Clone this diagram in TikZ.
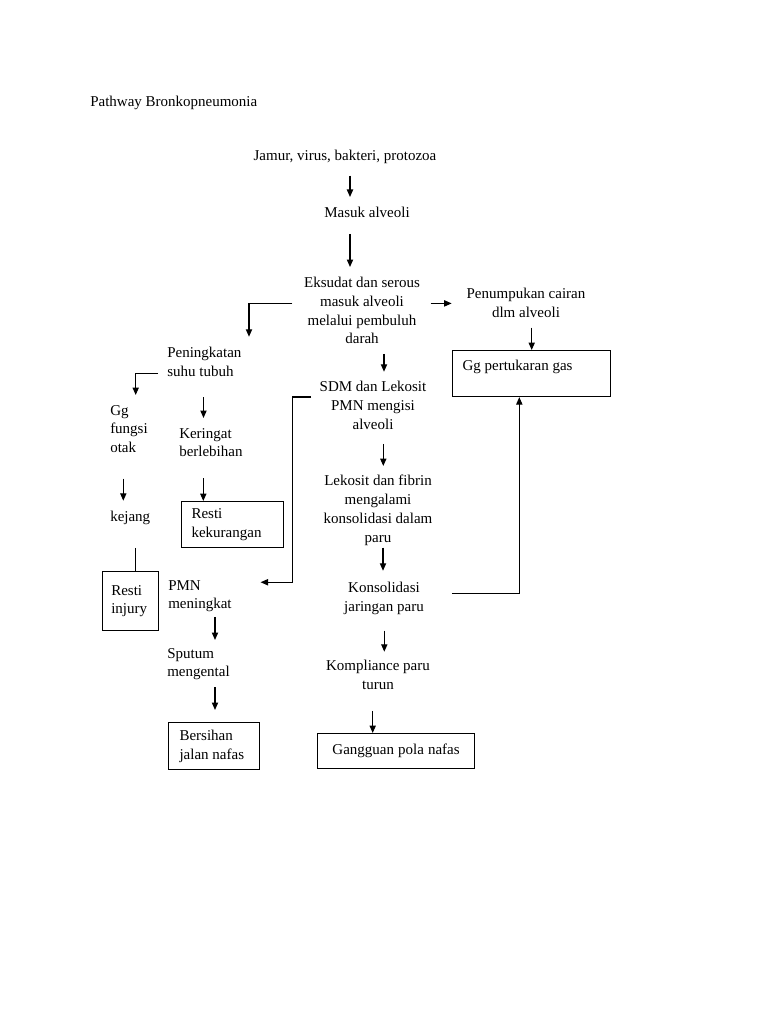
\documentclass[tikz,border=0pt]{standalone}
\usepackage{fontspec}
\setmainfont{Liberation Serif}
\usepackage{tikz}
\usetikzlibrary{arrows.meta}
\tikzset{
	lbl/.style={inner sep=0pt, align=center, font=\fontsize{12}{15}\selectfont},
	lbll/.style={lbl, align=left},
	box/.style={draw, line width=0.9pt, inner ysep=0pt, align=left,
		anchor=north west, font=\fontsize{12}{15}\selectfont,
		execute at begin node={\spaceskip=0pt\xspaceskip=0pt}},
	arr/.style={-{Triangle[length=6pt,width=5pt]}, line width=0.9pt},
	lnk/.style={line width=0.9pt},
}
\begin{document}
\begin{tikzpicture}[x=0.8pt, y=-0.8pt]
	\path[fill=white, use as bounding box] (0,0) rectangle (768,1024);
	\node[lbll, anchor=north west] (title) at (90,96) {Pathway Bronkopneumonia};
	% middle column
	\node[lbl, anchor=north] (jamur) at (345,150) {Jamur, virus, bakteri, protozoa};
	\node[lbl, anchor=north] (masuk) at (367,207) {Masuk alveoli};
	\node[lbl, anchor=north] (eksudat) at (362,277) {Eksudat dan serous\\masuk alveoli\\melalui pembuluh\\darah};
	\node[lbl, anchor=north] (sdm) at (373,381) {SDM dan Lekosit\\PMN mengisi\\alveoli};
	\node[lbl, anchor=north] (lekosit) at (378,475) {Lekosit dan fibrin\\mengalami\\konsolidasi dalam\\paru};
	\node[lbl, anchor=north] (konsolidasi) at (384,582) {Konsolidasi\\jaringan paru};
	\node[lbl, anchor=north] (kompliance) at (378,660) {Kompliance paru\\turun};
	\node[box, minimum width=125.6pt, minimum height=28pt, inner xsep=8pt,
		text width=109.6pt, align=center] (pola) at (317,733) {Gangguan pola nafas};
	% right column
	\node[lbl, anchor=north] (penumpukan) at (526,288) {Penumpukan cairan\\dlm alveoli};
	\node[box, minimum width=126.4pt, minimum height=36.8pt, inner xsep=8pt,
		text width=110.4pt, text depth=14pt] (gas) at (452,350) {Gg pertukaran gas};
	% left columns
	\node[lbll, anchor=north west] (suhu) at (167,347) {Peningkatan\\suhu tubuh};
	\node[lbll, anchor=north west] (otak) at (110,405) {Gg\\fungsi\\otak};
	\node[lbll, anchor=north west] (keringat) at (179,428) {Keringat\\berlebihan};
	\node[lbll, anchor=north west] (kejang) at (110,511) {kejang};
	\node[box, minimum width=81.6pt, minimum height=36.8pt, inner xsep=8pt,
		text width=65.6pt] (kekurangan) at (181,501) {Resti\\kekurangan};
	\node[box, minimum width=44.8pt, minimum height=47.2pt, inner xsep=7pt,
		text width=30.8pt] (injury) at (102,571) {Resti\\injury};
	\node[lbll, anchor=north west] (pmn) at (168,580) {PMN\\meningkat};
	\node[lbll, anchor=north west] (sputum) at (167,648) {Sputum\\mengental};
	\node[box, minimum width=72.8pt, minimum height=37.6pt, inner xsep=8.8pt,
		text width=55.2pt] (bersihan) at (168,722) {Bersihan\\jalan nafas};
	% straight arrows
	\foreach \a/\b/\x/\s/\e in {jamur/masuk/350/9.2pt/8pt, masuk/eksudat/350/12.6pt/8pt,
		eksudat/sdm/384/7.6pt/7.4pt, penumpukan/gas/531.7/7.8pt/0pt,
		suhu/keringat/203.5/16.5pt/8pt, sdm/lekosit/383.3/11.4pt/7.2pt,
		lekosit/konsolidasi/383/1.6pt/9pt, konsolidasi/kompliance/384.3/12.6pt/6.6pt,
		kompliance/pola/372.7/16.8pt/0pt, pmn/sputum/215/3.6pt/6.4pt,
		sputum/bersihan/215/5.6pt/9.6pt, otak/kejang/123.3/20.4pt/8.2pt,
		keringat/kekurangan/203.3/16.8pt/0pt}
	\draw[arr, shorten <=\s, shorten >=\e] (\a.south -| \x,0) -- (\b.north -| \x,0);
	\draw[lnk, shorten <=18.2pt] (kejang.south -| 135.7,0) -- (injury.north -| 135.7,0);
	% bent arrows
	\draw[arr, shorten <=9.2pt, shorten >=8.2pt] ([yshift=5.8pt]eksudat.west) -| (suhu.north -| 249,0);
	\draw[arr, shorten <=8.4pt, shorten >=11.8pt] ([yshift=5.8pt]eksudat.east) -- ([yshift=5.8pt]eksudat.east -| penumpukan.west);
	\draw[arr, shorten <=7.2pt, shorten >=8pt] ([yshift=2.4pt]suhu.south west) -| (otak.north -| 135.7,0);
	\draw[arr, shorten <=6.6pt, shorten >=23pt] ([yshift=6.6pt]sdm.west) -- ++(-21.4pt,0) |- ([yshift=-1.8pt]pmn.north east);
	\draw[arr, shorten <=22.3pt] ([yshift=3.8pt]konsolidasi.east) -| (gas.south -| 519.3,0);
\end{tikzpicture}
\end{document}
